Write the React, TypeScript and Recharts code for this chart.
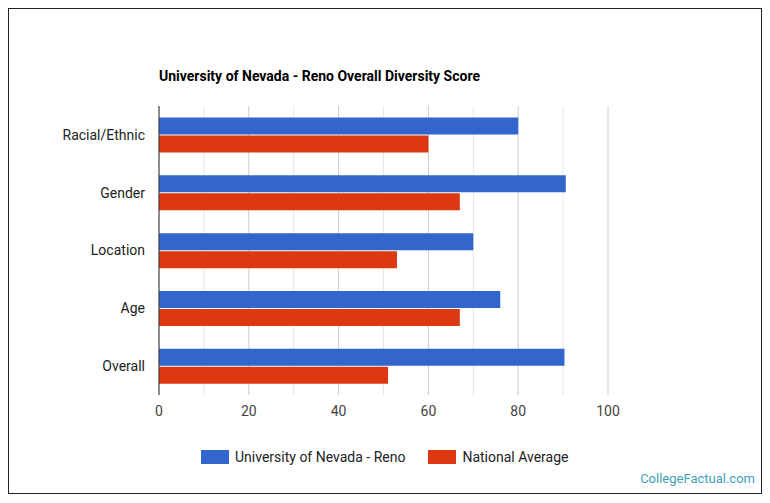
import { BarChart, Bar, XAxis, YAxis, CartesianGrid } from 'recharts';

const categories = ['Racial/Ethnic', 'Gender', 'Location', 'Age', 'Overall'];
const schoolScores = [80, 90.6, 70, 76, 90.3];
const nationalScores = [60, 67, 53, 67, 51];
const majorTicks = [0, 20, 40, 60, 80, 100];
const minorTicks = [10, 30, 50, 70, 90];

const series = [
  { key: 'school', name: 'University of Nevada - Reno', color: '#3366cc' },
  { key: 'national', name: 'National Average', color: '#dc3912' },
];

const data = categories.map((name, i) => ({
  name,
  school: schoolScores[i],
  national: nationalScores[i],
}));

export default function App() {
  return (
    <div
      style={{
        position: 'relative',
        width: 752,
        height: 484,
        border: '1px solid #222',
        fontFamily: 'Roboto, sans-serif',
        background: '#fff',
      }}
    >
      {/* 제목 */}
      <div style={{ position: 'absolute', left: 150, top: 59, fontSize: 14, fontWeight: 700, color: '#000' }}>
        University of Nevada - Reno Overall Diversity Score
      </div>

      <BarChart
        width={752}
        height={484}
        layout="vertical"
        data={data}
        margin={{ top: 97, right: 153, left: 0, bottom: 68 }}
        barCategoryGap="20%"
        barGap={1}
      >
        {/* 보조 눈금선 (10 단위) */}
        <CartesianGrid horizontal={false} stroke="#e6e6e6" verticalValues={minorTicks} />
        <CartesianGrid horizontal={false} stroke="#cccccc" />
        <XAxis
          type="number"
          domain={[0, 100]}
          ticks={majorTicks}
          axisLine={false}
          tickLine={false}
          tickMargin={5}
          height={30}
          tick={{ fill: '#444', fontSize: 14 }}
        />
        <YAxis
          type="category"
          dataKey="name"
          width={150}
          axisLine={{ stroke: '#333' }}
          tickLine={false}
          tickSize={6}
          tickMargin={8}
          tick={{ fill: '#222', fontSize: 14 }}
        />
        {series.map((s) => (
          <Bar key={s.key} dataKey={s.key} name={s.name} fill={s.color} isAnimationActive={false} />
        ))}
      </BarChart>

      {/* 범례 */}
      <div
        style={{
          position: 'absolute',
          top: 440,
          left: 192,
          display: 'flex',
          alignItems: 'center',
          fontSize: 14,
          color: '#222',
        }}
      >
        {series.map((s, i) => (
          <div key={s.key} style={{ display: 'flex', alignItems: 'center', marginRight: i === 0 ? 23 : 0 }}>
            <span style={{ display: 'inline-block', width: 28, height: 14, background: s.color, marginRight: 6 }} />
            <span>{s.name}</span>
          </div>
        ))}
      </div>

      <div style={{ position: 'absolute', right: 6, bottom: 7, fontSize: 13, color: '#3f9fb6' }}>
        CollegeFactual.com
      </div>
    </div>
  );
}
